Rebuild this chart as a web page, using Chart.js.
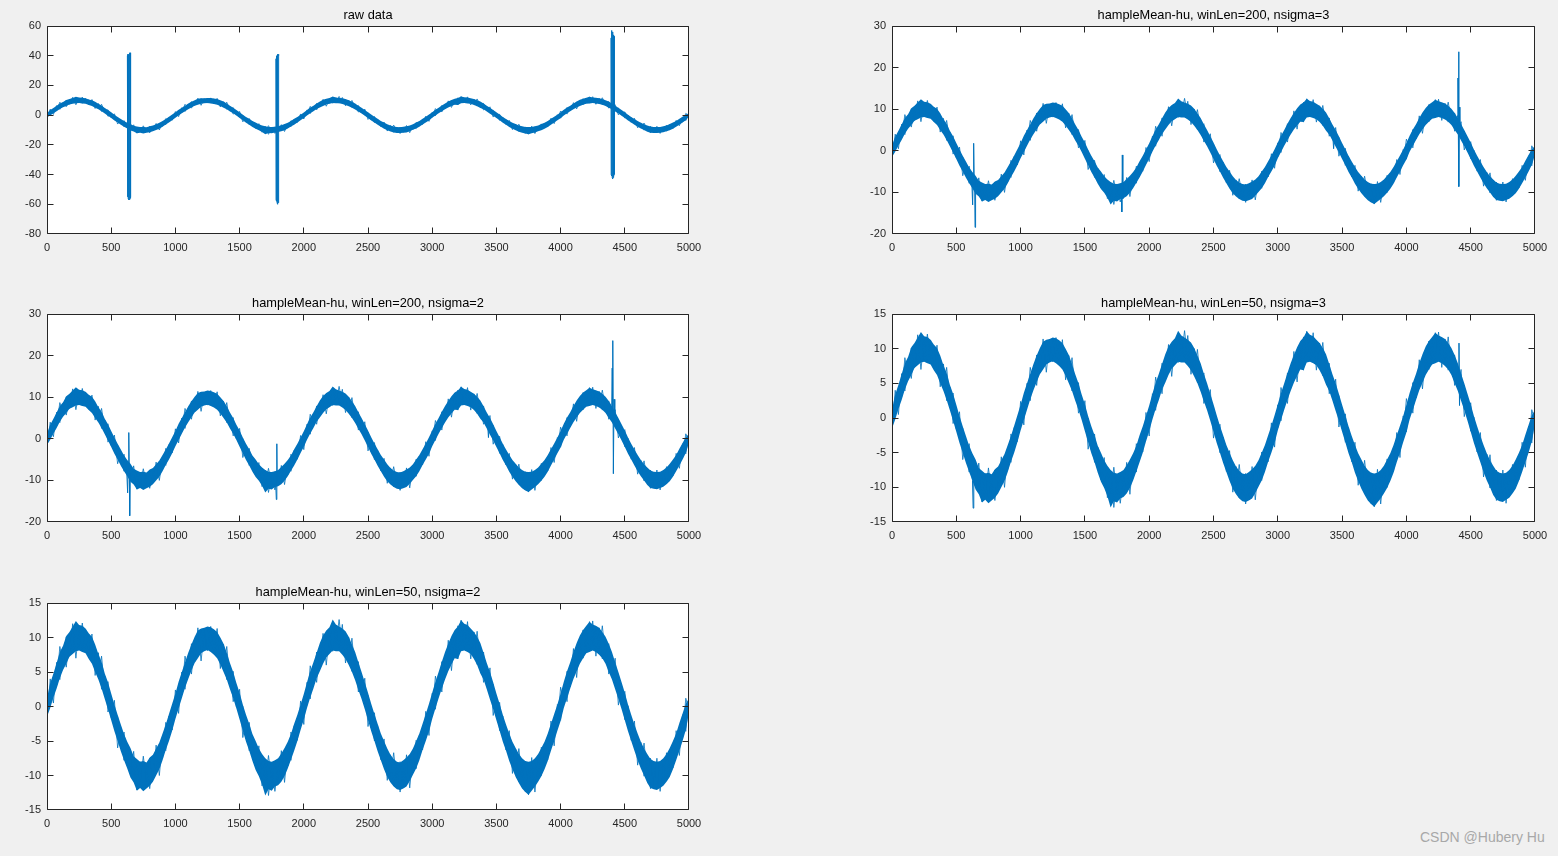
<!DOCTYPE html>
<html>
<head>
<meta charset="utf-8">
<script src="https://cdn.jsdelivr.net/npm/chart.js@4.4.1/dist/chart.umd.min.js"></script>
<style>
html,body{margin:0;padding:0;background:#f0f0f0;width:1558px;height:856px;overflow:hidden;}
canvas{position:absolute;display:block;}
#mark{position:absolute;left:1420px;top:829px;font:14px "Liberation Sans",Arial,sans-serif;color:#a8a8a8;white-space:nowrap;}
</style>
</head>
<body>
<canvas id="c1"></canvas>
<canvas id="c2"></canvas>
<canvas id="c3"></canvas>
<canvas id="c4"></canvas>
<canvas id="c5"></canvas>
<div id="mark">CSDN @Hubery Hu</div>
<script>
// ---------------- DATA ----------------
const plotTitles = [
  "raw data",
  "hampleMean-hu, winLen=200, nsigma=3",
  "hampleMean-hu, winLen=200, nsigma=2",
  "hampleMean-hu, winLen=50, nsigma=3",
  "hampleMean-hu, winLen=50, nsigma=2"
];
const xTickValues = [0,500,1000,1500,2000,2500,3000,3500,4000,4500,5000];
const yTicksRaw = [-80,-60,-40,-20,0,20,40,60];
const yTicks200 = [-20,-10,0,10,20,30];
const yTicks50 = [-15,-10,-5,0,5,10,15];

// sample positions of the noisy signal
const sampleX = [
  0,25,50,75,100,125,150,175,200,225,250,275,300,325,350,375,400,425,450,475,
  500,525,550,575,600,625,650,675,700,725,750,775,800,825,850,875,900,925,950,975,
  1000,1025,1050,1075,1100,1125,1150,1175,1200,1225,1250,1275,1300,1325,1350,1375,1400,1425,1450,1475,
  1500,1525,1550,1575,1600,1625,1650,1675,1700,1725,1750,1775,1800,1825,1850,1875,1900,1925,1950,1975,
  2000,2025,2050,2075,2100,2125,2150,2175,2200,2225,2250,2275,2300,2325,2350,2375,2400,2425,2450,2475,
  2500,2525,2550,2575,2600,2625,2650,2675,2700,2725,2750,2775,2800,2825,2850,2875,2900,2925,2950,2975,
  3000,3025,3050,3075,3100,3125,3150,3175,3200,3225,3250,3275,3300,3325,3350,3375,3400,3425,3450,3475,
  3500,3525,3550,3575,3600,3625,3650,3675,3700,3725,3750,3775,3800,3825,3850,3875,3900,3925,3950,3975,
  4000,4025,4050,4075,4100,4125,4150,4175,4200,4225,4250,4275,4300,4325,4350,4375,4400,4425,4450,4475,
  4500,4525,4550,4575,4600,4625,4650,4675,4700,4725,4750,4775,4800,4825,4850,4875,4900,4925,4950,4975,
  5000
];
// dense core of the noisy band (upper / lower edge)
const coreHigh = [
  1.2,3.4,4.8,6.3,7.9,8.8,10.2,10.8,11.6,12.4,
  11.8,11.7,11.3,10.6,10.1,9.0,7.6,6.5,4.8,3.5,
  1.9,0.3,-1.2,-2.6,-4.0,-5.1,-6.0,-7.2,-7.6,-8.0,
  -7.9,-8.1,-7.4,-7.0,-6.1,-5.2,-3.9,-2.6,-1.1,0.4,
  1.9,3.6,5.0,6.4,7.8,9.0,10.1,11.0,11.3,11.4,
  11.6,11.5,11.2,10.8,10.0,9.1,7.8,6.3,5.0,3.4,
  2.0,0.3,-1.2,-2.5,-4.0,-5.0,-6.1,-6.9,-7.5,-7.9,
  -8.0,-7.8,-7.5,-6.8,-6.0,-5.1,-4.0,-2.5,-1.2,0.3,
  1.8,3.5,5.1,6.4,7.8,9.2,10.3,11.0,11.5,12.6,
  11.9,11.6,11.3,10.9,10.1,9.0,7.9,6.4,5.0,3.5,
  2.0,0.4,-1.1,-2.5,-3.9,-5.0,-6.1,-7.0,-7.6,-8.0,
  -8.1,-7.8,-7.4,-6.9,-6.1,-5.0,-3.9,-2.5,-1.1,0.4,
  2.0,3.6,5.0,6.5,7.9,9.1,10.2,11.1,11.6,12.5,
  12.0,11.8,11.3,10.8,10.1,9.2,7.8,6.3,5.0,3.5,
  1.9,0.4,-1.2,-2.6,-3.9,-5.1,-6.0,-6.9,-7.5,-7.9,
  -8.0,-7.9,-7.5,-6.9,-6.0,-5.1,-3.9,-2.5,-1.1,0.3,
  1.9,3.6,5.1,6.4,7.9,9.2,10.3,11.1,11.7,12.3,
  11.9,11.7,11.4,10.8,10.1,9.1,7.9,6.4,5.0,3.5,
  2.0,0.3,-1.2,-2.6,-3.9,-5.1,-6.1,-6.9,-7.6,-7.9,
  -8.0,-7.9,-7.5,-6.9,-6.0,-5.0,-3.9,-2.4,-1.0,0.4,
  1.2
];
const coreLow = [
  -1.5,-0.2,1.3,2.6,4.1,5.3,6.2,7.2,7.6,8.0,
  8.1,7.9,7.7,6.9,6.2,5.0,3.9,2.6,1.1,-0.4,
  -2.0,-3.6,-5.0,-6.5,-7.8,-9.0,-10.3,-11.0,-12.2,-11.8,
  -12.3,-11.9,-11.5,-10.9,-10.0,-9.1,-7.8,-6.3,-5.0,-3.5,
  -1.8,-0.3,1.2,2.7,4.0,5.2,6.3,7.0,7.7,8.0,
  8.2,7.9,7.5,7.0,6.1,5.0,3.9,2.5,1.2,-0.3,
  -1.9,-3.5,-5.1,-6.4,-7.9,-9.2,-10.1,-11.3,-12.9,-12.0,
  -12.2,-11.6,-11.4,-10.9,-10.1,-9.0,-7.7,-6.4,-5.0,-3.4,
  -1.9,-0.2,1.3,2.6,4.1,5.1,6.2,7.1,7.6,8.1,
  8.0,8.0,7.5,6.9,6.0,5.0,3.8,2.4,1.1,-0.4,
  -2.0,-3.6,-5.0,-6.5,-7.8,-9.1,-10.2,-11.0,-11.6,-12.0,
  -12.1,-11.9,-11.6,-10.8,-9.9,-9.0,-7.8,-6.3,-5.0,-3.6,
  -1.8,-0.3,1.2,2.6,3.9,5.1,6.1,7.0,6.9,8.0,
  8.1,7.9,7.6,6.9,6.0,4.8,3.9,2.5,1.0,-0.4,
  -2.0,-3.5,-5.1,-6.4,-7.9,-9.1,-10.2,-11.1,-11.9,-12.4,
  -12.8,-12.2,-11.6,-10.9,-10.1,-9.1,-7.9,-6.4,-5.0,-3.5,
  -2.1,-0.2,1.2,2.6,4.0,5.1,6.2,7.0,7.7,7.9,
  8.1,7.9,7.5,7.0,6.2,5.0,3.9,2.5,1.1,-0.4,
  -2.0,-3.6,-5.0,-6.4,-7.8,-9.0,-10.0,-11.1,-11.8,-12.0,
  -12.1,-11.8,-11.5,-10.9,-10.2,-9.1,-7.8,-6.4,-5.0,-3.4,
  -0.8
];
// extreme excursions of the noise (upper / lower hairs)
const noiseHigh = [
  1.4,4.0,4.2,6.4,8.7,8.4,10.1,9.9,12.0,11.5,
  11.2,12.1,11.2,10.3,10.5,8.2,7.8,7.3,4.4,3.6,
  1.0,0.9,-1.5,-3.3,-3.7,-5.4,-6.7,-6.5,-8.4,-8.0,
  -7.2,-8.6,-7.5,-7.9,-5.6,-5.5,-4.7,-2.3,-1.4,-0.2,
  2.4,2.7,5.0,7.3,7.2,9.1,9.1,11.4,11.1,11.1,
  11.4,11.6,10.9,11.3,9.2,9.0,8.7,5.8,5.1,2.6,
  2.5,0.0,-1.9,-2.3,-4.2,-5.7,-5.7,-7.8,-7.6,-7.1,
  -8.7,-7.9,-8.5,-6.4,-6.5,-5.9,-3.7,-2.8,-1.7,0.8,
  1.1,3.5,5.9,5.8,7.9,8.1,10.6,10.5,10.7,12.1,
  11.7,12.6,11.9,10.0,10.0,9.9,7.2,6.5,4.1,4.1,
  1.6,-0.4,-0.9,-2.8,-4.5,-4.7,-7.0,-7.0,-6.7,-8.6,
  -8.0,-8.9,-7.0,-7.3,-6.9,-4.9,-4.2,-3.1,-0.7,-0.5,
  1.9,4.4,4.4,6.5,6.9,9.6,9.7,10.1,11.7,12.5,
  11.4,12.3,10.6,10.8,10.9,8.4,7.9,5.5,5.6,3.2,
  1.2,0.6,-1.4,-3.1,-3.5,-6.0,-6.2,-6.1,-8.2,-7.9,
  -9.0,-7.4,-7.9,-7.7,-5.9,-5.4,-4.5,-2.1,-2.0,0.3,
  2.8,2.9,5.1,5.5,8.4,8.7,9.3,11.1,11.2,12.3,
  12.4,11.0,11.4,11.7,9.4,9.1,6.9,7.0,4.7,2.8,
  2.2,0.1,-1.7,-2.1,-4.8,-5.2,-5.3,-7.6,-7.5,-8.9,
  -7.5,-8.3,-8.3,-6.7,-6.4,-5.7,-3.5,-3.4,-1.2,1.2,
  1.0
];
const noiseLow = [
  -1.8,0.5,0.5,3.1,3.9,6.1,5.7,7.3,8.3,7.0,
  8.5,8.0,8.4,7.1,7.0,4.5,4.5,2.5,2.1,-0.8,
  -1.6,-2.8,-6.0,-6.0,-7.8,-8.2,-9.9,-10.0,-12.1,-11.3,
  -12.0,-10.9,-11.9,-10.5,-9.3,-10.0,-7.4,-6.4,-4.2,-3.4,
  -1.1,-1.0,1.7,2.5,4.9,4.7,6.5,7.7,6.6,8.4,
  8.1,8.8,7.7,7.8,5.5,5.7,3.9,3.5,0.7,0.0,
  -1.2,-4.5,-4.6,-6.4,-7.0,-8.9,-9.2,-11.5,-10.9,-12.9,
  -11.0,-12.3,-11.1,-10.1,-11.0,-8.6,-7.8,-5.6,-4.9,-2.7,
  -2.6,0.2,1.1,3.5,3.5,5.5,6.9,6.0,8.0,8.0,
  8.9,8.1,8.4,6.3,6.7,5.1,4.9,2.1,1.5,0.4,
  -2.9,-3.1,-5.0,-5.6,-7.7,-8.2,-10.7,-10.3,-11.5,-10.9,
  -12.4,-11.5,-10.7,-11.8,-9.6,-9.0,-7.0,-6.3,-4.2,-4.2,
  -1.4,-0.4,2.1,2.1,4.3,5.9,5.2,7.4,6.9,8.8,
  8.2,8.8,6.9,7.5,6.1,6.1,3.5,2.9,1.9,-1.3,
  -1.5,-3.5,-4.2,-6.3,-7.0,-9.7,-9.5,-10.9,-10.5,-12.3,
  -12.8,-11.1,-12.4,-10.4,-10.0,-8.2,-7.7,-5.6,-5.7,-3.0,
  -2.0,0.6,0.7,2.9,4.7,4.2,6.6,7.0,8.4,8.1,
  8.9,7.3,8.1,6.9,7.1,4.7,4.3,3.3,0.2,0.1,
  -1.9,-2.7,-4.9,-5.6,-8.5,-8.5,-10.1,-9.9,-11.9,-11.5,
  -11.2,-12.3,-11.0,-10.8,-9.2,-8.9,-7.0,-7.1,-4.5,-3.6,
  -0.6
];

// raw data outlier bursts
const rawSpike1X = [626,628,630,632,634,636,638,640,642,644,646,648,650,652];
const rawSpike1Y = [40,-55,41,-56,40,-57,41,-56,42,-57,41,-56,42,-55];
const rawSpike2X = [1782,1784,1786,1788,1790,1792,1794,1796,1798,1800,1802,1804,1806];
const rawSpike2Y = [38,-57,39,-58,40,-59,40,-60,41,-59,41,-58,40];
const rawSpike3X = [4392,4394,4396,4398,4400,4402,4404,4406,4408,4410,4412,4414,4416,4418,4420];
const rawSpike3Y = [52,-40,54,-41,57,-42,56,-43,55,-42,54,-41,53,-40,52];

// residual spikes after filtering: winLen=200, nsigma=3
const hm2003SpikeAX = [615,622,627,631,635,639,643,646,650,656];
const hm2003SpikeAY = [-7.5,-8.5,-13.0,-6.5,1.8,-7.0,-9.5,-18.4,-8.5,-9.0];
const hm2003SpikeBX = [1770,1778,1783,1787,1791,1795,1802];
const hm2003SpikeBY = [-10.0,-11.0,-9.0,-14.7,-1.0,-11.5,-10.0];
const hm2003SpikeCX = [4392,4398,4401,4404,4406,4409,4412,4416,4422];
const hm2003SpikeCY = [7.0,8.5,17.5,4.0,23.8,-8.6,10.5,4.0,6.0];
const hm2003SpikeDX = [3428,3434,3440];
const hm2003SpikeDY = [3.5,0.5,3.0];

// winLen=200, nsigma=2
const hm2002SpikeAX = [615,622,628,632,637,641,644,648,655];
const hm2002SpikeAY = [-7.5,-8.5,-13.0,-6.5,1.5,-8.0,-18.5,-9.0,-9.0];
const hm2002SpikeBX = [1772,1780,1786,1790,1793,1798];
const hm2002SpikeBY = [-10.5,-9.5,-14.6,-1.2,-11.0,-10.0];
const hm2002SpikeCX = [4392,4398,4402,4405,4408,4411,4416,4422];
const hm2002SpikeCY = [7.5,8.0,17.0,4.0,23.6,-8.4,9.5,5.5];
const hm2002SpikeDX = [3432,3438,3444];
const hm2002SpikeDY = [3.5,0.3,3.0];

// winLen=50, nsigma=3
const hm503SpikeAX = [620,626,631,636,642];
const hm503SpikeAY = [-8.0,-9.0,-13.0,-8.5,-9.5];
const hm503SpikeCX = [4398,4404,4409,4413,4418];
const hm503SpikeCY = [7.0,4.5,10.8,1.8,5.5];

// ---------------- RENDERING ----------------
const FONT = '"Liberation Sans", Arial, Helvetica, sans-serif';
const BLUE = '#0072BD';
const AXIS = '#262626';
const YW = 46, TITLEH = 17, XH = 24, PADR = 22, TL = 6;

function pts(xs, ys){ return xs.map((x,i)=>({x:x, y:ys[i]})); }

function bandSets(){
  // noisy trace drawn as two interleaved zig-zags between the extreme excursions
  const zigA = sampleX.map((x,i)=>({x:x, y: (i % 2) ? noiseLow[i] : noiseHigh[i]}));
  const zigB = sampleX.map((x,i)=>({x:x, y: (i % 2) ? noiseHigh[i] : noiseLow[i]}));
  return [
    {data: zigA, borderColor:'rgba(0,114,189,0.8)', borderWidth:1, fill:false, pointRadius:0, tension:0, order:1},
    {data: zigB, borderColor:'rgba(0,114,189,0.8)', borderWidth:1, fill:false, pointRadius:0, tension:0, order:1},
    {data: pts(sampleX, coreHigh), borderColor:'rgba(0,114,189,0)', borderWidth:0,
     backgroundColor: BLUE, fill:'+1', pointRadius:0, tension:0, order:2},
    {data: pts(sampleX, coreLow), borderColor:'rgba(0,114,189,0)', borderWidth:0,
     fill:false, pointRadius:0, tension:0, order:2}
  ];
}
function spikeSet(xs, ys, w){
  return {data: pts(xs, ys), borderColor: BLUE, borderWidth: w || 1, fill:false, pointRadius:0, tension:0, order:0};
}

const boxPlugin = {
  id: 'matlabBox',
  beforeDraw(chart){
    const ctx = chart.ctx, a = chart.chartArea;
    ctx.save();
    ctx.fillStyle = '#ffffff';
    ctx.fillRect(a.left, a.top, a.right - a.left, a.bottom - a.top);
    ctx.restore();
  },
  afterDatasetsDraw(chart){
    const ctx = chart.ctx, a = chart.chartArea, xs = chart.scales.x, ys = chart.scales.y;
    const l = a.left + 0.5, r = a.right - 0.5, t = a.top + 0.5, b = a.bottom - 0.5;
    ctx.save();
    ctx.strokeStyle = AXIS; ctx.lineWidth = 1;
    ctx.beginPath();
    ctx.rect(l, t, r - l, b - t);
    xs.ticks.forEach(tk => {
      let p = Math.floor(xs.getPixelForValue(tk.value)) + 0.5;
      p = Math.max(l, Math.min(r, p));
      ctx.moveTo(p, b); ctx.lineTo(p, b - TL);
      ctx.moveTo(p, t); ctx.lineTo(p, t + TL);
    });
    ys.ticks.forEach(tk => {
      let p = Math.floor(ys.getPixelForValue(tk.value)) + 0.5;
      p = Math.max(t, Math.min(b, p));
      ctx.moveTo(l, p); ctx.lineTo(l + TL, p);
      ctx.moveTo(r, p); ctx.lineTo(r - TL, p);
    });
    ctx.stroke();
    ctx.restore();
  }
};

function makePlot(id, g, title, yTicks, datasets){
  const cv = document.getElementById(id);
  const w = (g.R + 1 - g.L) + YW + PADR;
  const h = (g.B + 1 - g.T) + TITLEH + XH;
  cv.width = w; cv.height = h;
  cv.style.left = (g.L - YW) + 'px';
  cv.style.top = (g.T - TITLEH) + 'px';
  cv.style.width = w + 'px'; cv.style.height = h + 'px';
  new Chart(cv, {
    type: 'line',
    data: {datasets: datasets},
    plugins: [boxPlugin],
    options: {
      responsive: false, animation: false, events: [], devicePixelRatio: 1,
      layout: {padding: {left:0, right:PADR, top:0, bottom:0}},
      plugins: {
        legend: {display:false}, tooltip: {enabled:false},
        title: {display:true, text:title, fullSize:false, color:'#000000',
                font:{family:FONT, size:12.8, weight:'normal', lineHeight:'13px'},
                padding:{top:0, bottom:4}}
      },
      scales: {
        x: {type:'linear', min:0, max:5000,
            afterBuildTicks: s => { s.ticks = xTickValues.map(v => ({value:v})); },
            afterFit: s => { s.height = XH; },
            grid:{display:false, drawTicks:false}, border:{display:false},
            ticks:{padding:7, color:AXIS, font:{family:FONT, size:11}, maxRotation:0, autoSkip:false,
                   callback: v => String(v)}},
        y: {type:'linear', min:yTicks[0], max:yTicks[yTicks.length-1],
            afterBuildTicks: s => { s.ticks = yTicks.map(v => ({value:v})); },
            afterFit: s => { s.width = YW; },
            grid:{display:false, drawTicks:false}, border:{display:false},
            ticks:{padding:6, color:AXIS, font:{family:FONT, size:11}, autoSkip:false,
                   callback: v => String(v)}}
      }
    }
  });
}

makePlot('c1', {L:47, R:688, T:26, B:233}, plotTitles[0], yTicksRaw,
  bandSets().concat([spikeSet(rawSpike1X, rawSpike1Y), spikeSet(rawSpike2X, rawSpike2Y), spikeSet(rawSpike3X, rawSpike3Y)]));
makePlot('c2', {L:892, R:1534, T:26, B:233}, plotTitles[1], yTicks200,
  bandSets().concat([spikeSet(hm2003SpikeAX, hm2003SpikeAY), spikeSet(hm2003SpikeBX, hm2003SpikeBY),
                     spikeSet(hm2003SpikeCX, hm2003SpikeCY), spikeSet(hm2003SpikeDX, hm2003SpikeDY)]));
makePlot('c3', {L:47, R:688, T:314, B:521}, plotTitles[2], yTicks200,
  bandSets().concat([spikeSet(hm2002SpikeAX, hm2002SpikeAY), spikeSet(hm2002SpikeBX, hm2002SpikeBY),
                     spikeSet(hm2002SpikeCX, hm2002SpikeCY), spikeSet(hm2002SpikeDX, hm2002SpikeDY)]));
makePlot('c4', {L:892, R:1534, T:314, B:521}, plotTitles[3], yTicks50,
  bandSets().concat([spikeSet(hm503SpikeAX, hm503SpikeAY), spikeSet(hm503SpikeCX, hm503SpikeCY)]));
makePlot('c5', {L:47, R:688, T:603, B:809}, plotTitles[4], yTicks50, bandSets());
</script>
</body>
</html>
